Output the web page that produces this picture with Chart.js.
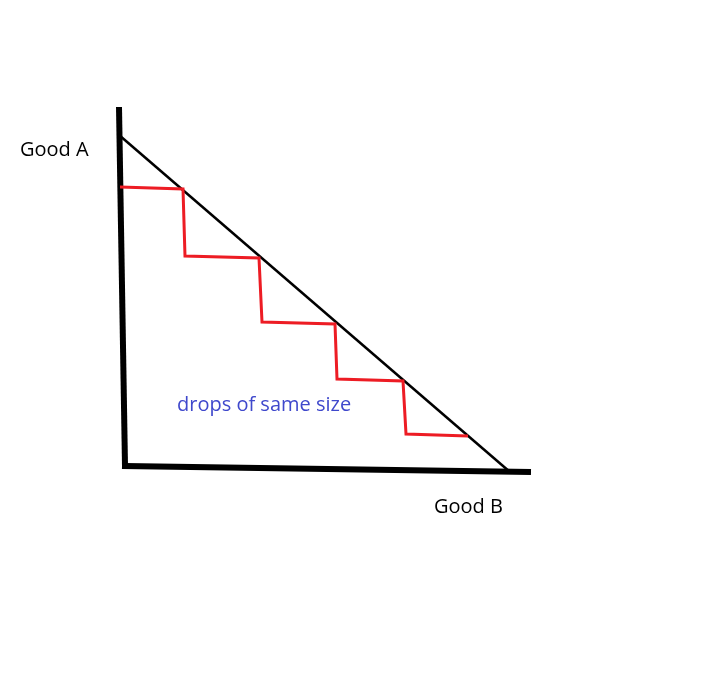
<!DOCTYPE html>
<html>
<head>
<meta charset="utf-8">
<script src="https://cdn.jsdelivr.net/npm/chart.js@4/dist/chart.umd.min.js"></script>
<style>
html,body{margin:0;padding:0;background:#fff;}
#wrap{width:708px;height:688px;}
</style>
</head>
<body>
<div id="wrap"><canvas id="c" width="708" height="688"></canvas></div>
<script>
// Drawing coordinates (canvas-like units, y grows downward)
const axisAX = [119, 125];
const axisAY = [107, 466];
const axisBX = [125, 528];
const axisBY = [466, 472];
const budgetX = [119, 510];
const budgetY = [135, 472];
const stepsX = [120, 183, 185, 259, 262, 335, 337, 403, 406, 468];
const stepsY = [187, 189, 256, 258, 322, 324, 379, 381, 434, 436];
const labelTexts = ["Good A", "Good B", "drops of same size"];
const labelX = [20, 434, 177];
const labelY = [150, 507, 405];
const labelColors = ["#000000", "#000000", "#3f48cc"];

function pts(xs, ys){ return xs.map((x,i)=>({x:x, y:ys[i]})); }

const labelPlugin = {
  id: 'labels',
  afterDatasetsDraw(chart){
    const ctx = chart.ctx;
    const xs = chart.scales.x, ys = chart.scales.y;
    ctx.save();
    ctx.font = '20px "Open Sans", "Noto Sans", sans-serif';
    ctx.textBaseline = 'middle';
    ctx.textAlign = 'left';
    labelTexts.forEach((t,i)=>{
      ctx.fillStyle = labelColors[i];
      ctx.fillText(t, xs.getPixelForValue(labelX[i]), ys.getPixelForValue(labelY[i]));
    });
    ctx.restore();
  }
};

new Chart(document.getElementById('c'), {
  type: 'scatter',
  data: {
    datasets: [
      {data: pts(stepsX, stepsY), showLine: true, borderColor: '#ed1c24', borderWidth: 3, pointRadius: 0, borderJoinStyle: 'miter', tension: 0},
      {data: pts(budgetX, budgetY), showLine: true, borderColor: '#000000', borderWidth: 2.5, pointRadius: 0, tension: 0},
      {data: pts(axisAX, axisAY), showLine: true, borderColor: '#000000', borderWidth: 6, pointRadius: 0, borderCapStyle: 'butt', tension: 0},
      {data: pts(axisBX, axisBY), showLine: true, borderColor: '#000000', borderWidth: 6, pointRadius: 0, borderCapStyle: 'square', tension: 0}
    ]
  },
  options: {
    responsive: false,
    animation: false,
    layout: {padding: 0},
    plugins: {legend: {display: false}, tooltip: {enabled: false}},
    scales: {
      x: {type: 'linear', min: 0, max: 708, display: false},
      y: {type: 'linear', min: 0, max: 688, reverse: true, display: false}
    }
  },
  plugins: [labelPlugin]
});
</script>
</body>
</html>
